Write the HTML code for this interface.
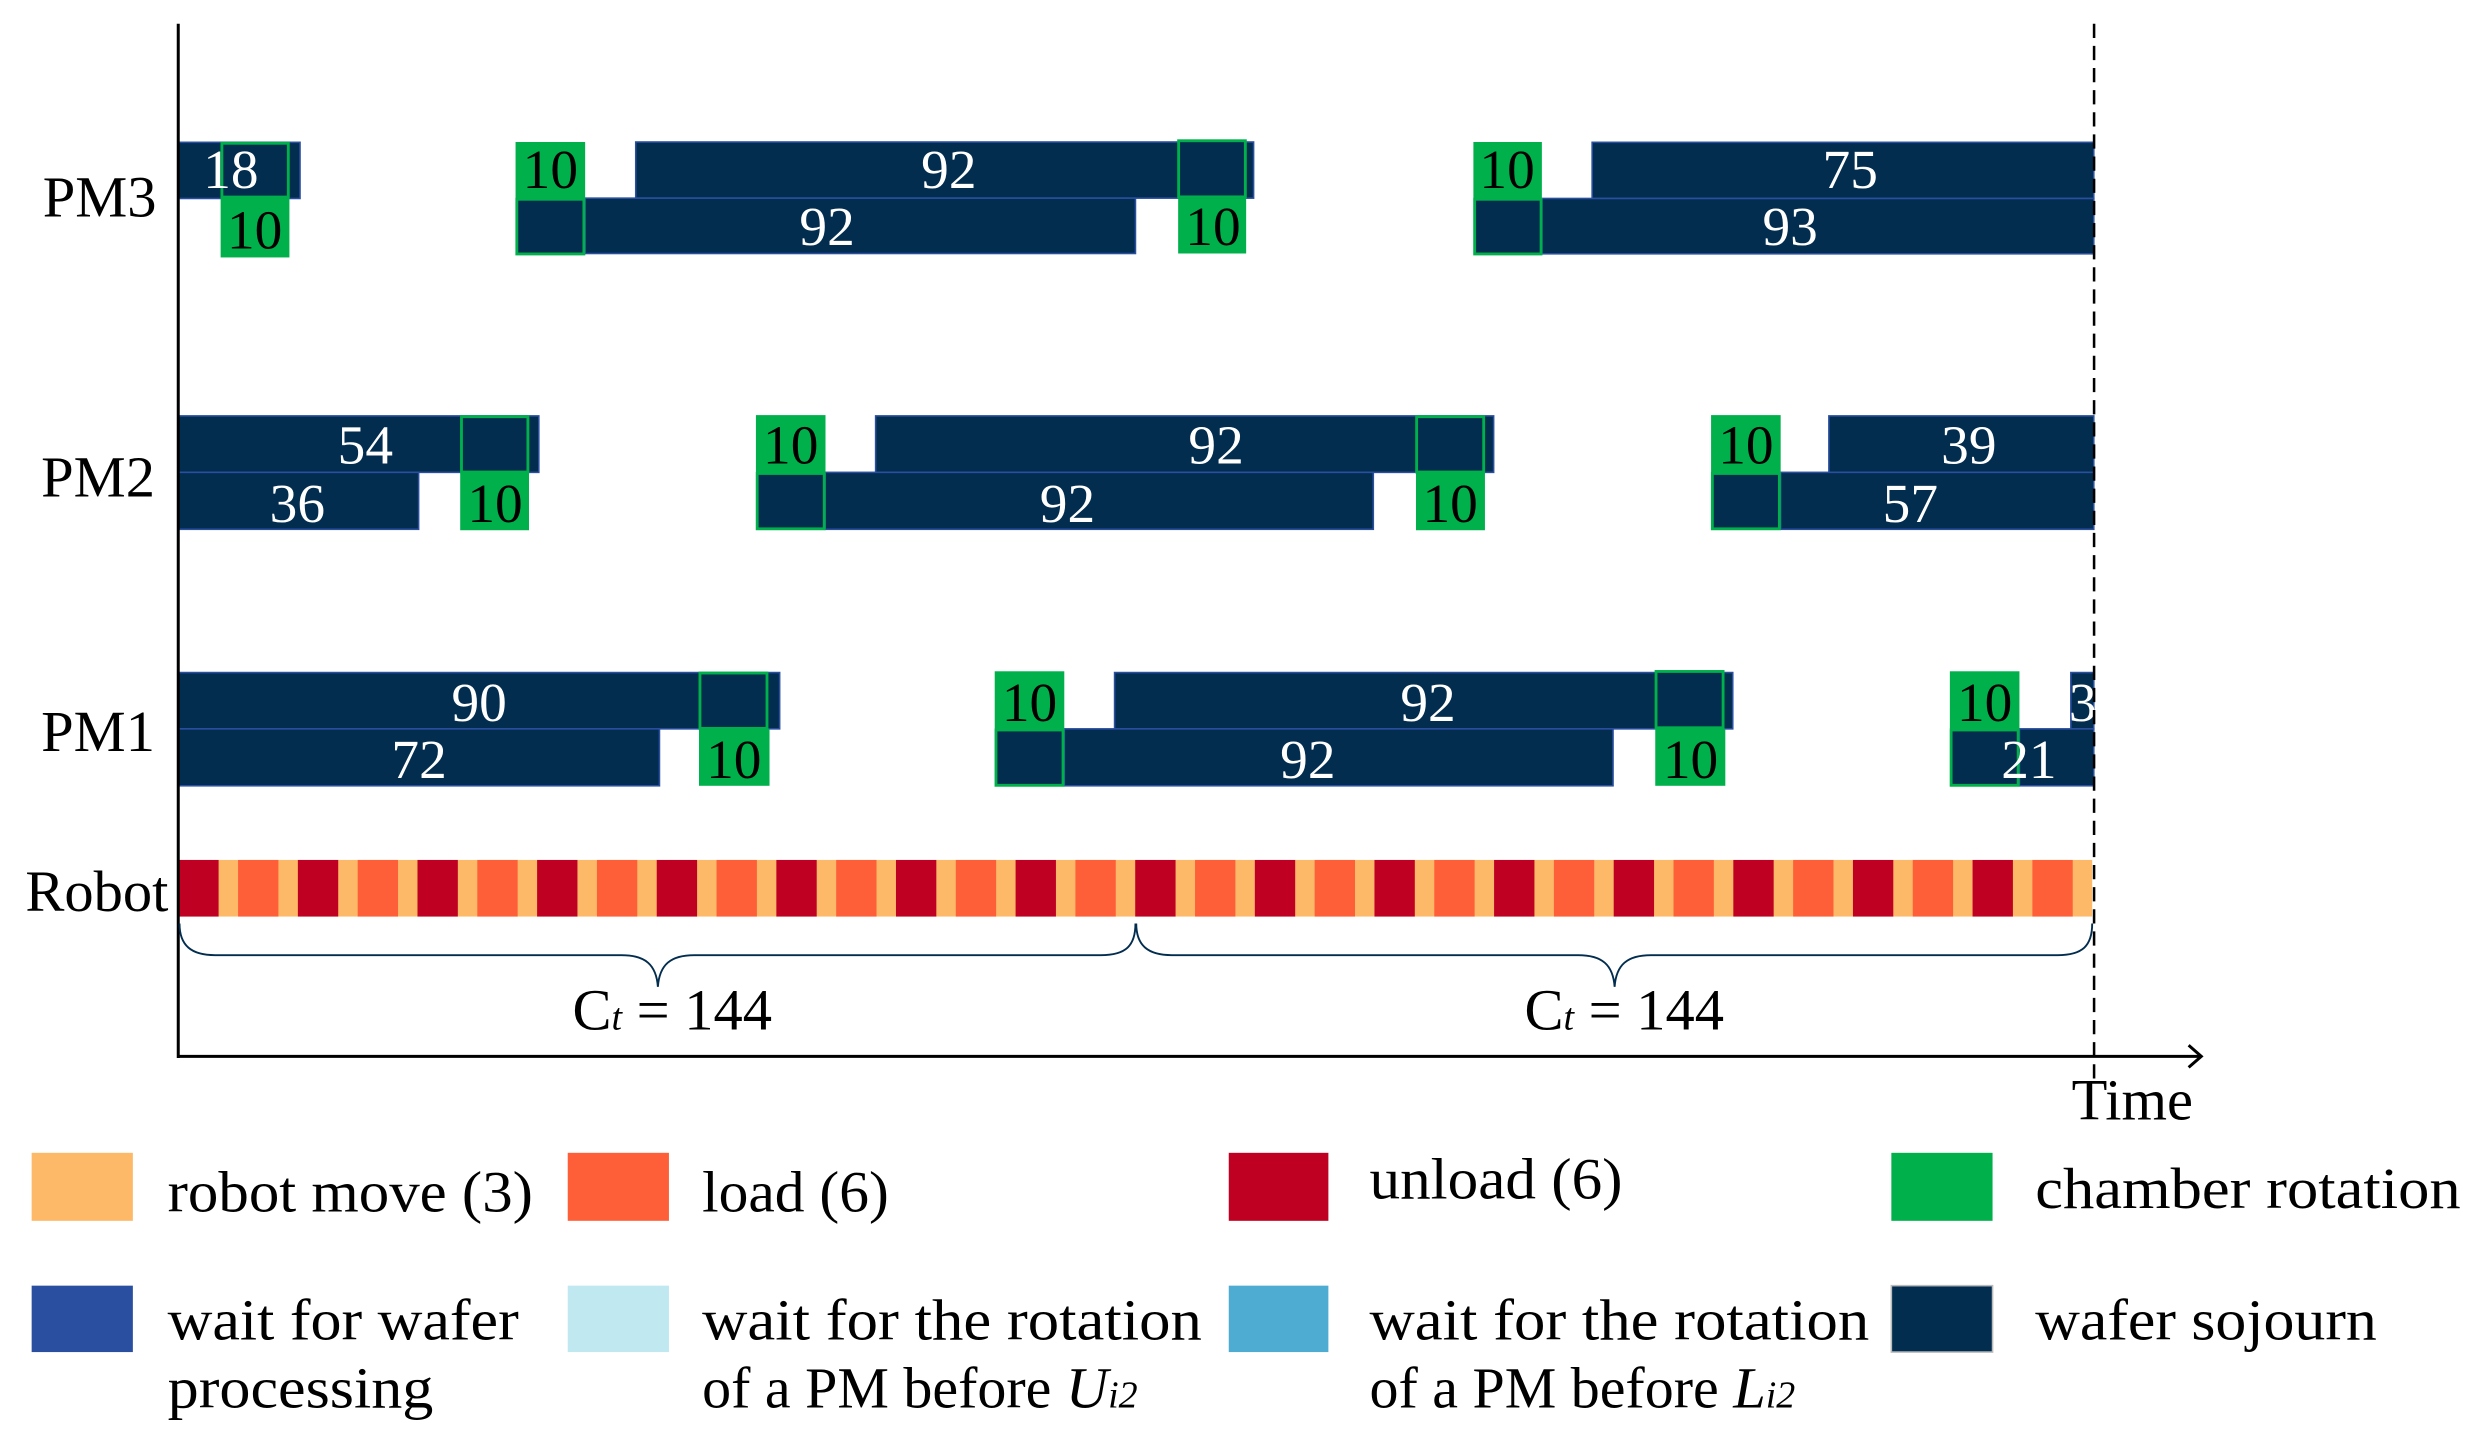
<!DOCTYPE html>
<html><head><meta charset="utf-8"><style>
html,body{margin:0;padding:0;background:#fff;}
svg{display:block;}
text{font-family:"Liberation Serif",serif;}
</style></head><body>
<svg width="2467" height="1440" viewBox="0 0 1560 910.6" xmlns="http://www.w3.org/2000/svg">
<!-- bars -->
<g fill="#022d4f" stroke="#2a4fa0" stroke-width="1">
<rect x="112.7" y="90" width="77" height="35.5"/>
<rect x="402" y="89.8" width="390.7" height="35.5"/>
<rect x="370" y="125.3" width="348" height="35"/>
<rect x="1006.8" y="90" width="317.2" height="35.5"/>
<rect x="975" y="125.5" width="349" height="35"/>
<rect x="112.7" y="263" width="228" height="35.7"/>
<rect x="112.7" y="298.7" width="152" height="36"/>
<rect x="553.7" y="263" width="390.8" height="35.7"/>
<rect x="521.8" y="298.7" width="346.6" height="36"/>
<rect x="1156.5" y="263" width="167.5" height="35.7"/>
<rect x="1126" y="298.7" width="198" height="36"/>
<rect x="112.7" y="425.3" width="380.3" height="35.6"/>
<rect x="112.7" y="460.9" width="304.3" height="36"/>
<rect x="704.8" y="425.3" width="390.9" height="35.6"/>
<rect x="673" y="460.9" width="347" height="36"/>
<rect x="1309.5" y="425.3" width="14.5" height="35.6"/>
<rect x="1277" y="460.9" width="47" height="36"/>
</g>
<!-- green filled boxes -->
<g fill="#00b04a">
<rect x="139.5" y="125.3" width="43.5" height="37.5"/>
<rect x="326" y="89.8" width="44" height="35.5"/>
<rect x="745" y="125.3" width="43" height="35"/>
<rect x="931.7" y="89.8" width="43.3" height="35.5"/>
<rect x="291" y="298.7" width="43.5" height="36.6"/>
<rect x="478" y="262.5" width="44" height="36.2"/>
<rect x="895.4" y="298.7" width="43.6" height="36.6"/>
<rect x="1082" y="262.5" width="44" height="36.2"/>
<rect x="442" y="460.9" width="44.6" height="36"/>
<rect x="629" y="424.5" width="44" height="36.4"/>
<rect x="1046.7" y="460.9" width="44.3" height="36"/>
<rect x="1233" y="424.5" width="44" height="36.4"/>
</g>
<!-- green outlines with dark fill -->
<g fill="#022d4f" stroke="#00b04a" stroke-width="1.8">
<rect x="140.3" y="90.6" width="42" height="34"/>
<rect x="326.8" y="126" width="42.4" height="34.6"/>
<rect x="745.3" y="89" width="42.2" height="35.5"/>
<rect x="932.5" y="126" width="42" height="34.6"/>
<rect x="291.8" y="263.5" width="42" height="35"/>
<rect x="478.8" y="299.4" width="42.4" height="35"/>
<rect x="895.8" y="263.5" width="42.4" height="35"/>
<rect x="1082.8" y="299.4" width="42.4" height="35"/>
<rect x="442.6" y="425.6" width="42.4" height="35"/>
<rect x="629.8" y="461.6" width="42.4" height="35"/>
<rect x="1047.2" y="424.6" width="42.4" height="35.6"/>
<rect x="1233.8" y="461.6" width="42.4" height="35"/>
</g>
<!-- robot -->
<g id="rb">
<rect x="112.7" y="543.8" width="1210.3" height="35.8" fill="#fdb968"/>
</g>
<script>
(function(){
var g=document.getElementById('rb');var u=1210.3/288;var x0=112.7;
for(var i=0;i<16;i++){
 var t=i*18;
 var r=document.createElementNS('http://www.w3.org/2000/svg','rect');
 r.setAttribute('x',x0+t*u);r.setAttribute('y',543.8);r.setAttribute('width',6*u+0.3);r.setAttribute('height',35.8);r.setAttribute('fill','#c00022');g.appendChild(r);
 var o=document.createElementNS('http://www.w3.org/2000/svg','rect');
 o.setAttribute('x',x0+(t+9)*u);o.setAttribute('y',543.8);o.setAttribute('width',6*u+0.3);o.setAttribute('height',35.8);o.setAttribute('fill','#ff5f38');g.appendChild(o);
}
})();
</script>
<!-- bar numbers -->
<g font-size="35" fill="#fff" text-anchor="middle">
<text x="146" y="119">18</text>
<text x="600" y="119">92</text>
<text x="523" y="155">92</text>
<text x="1170" y="119">75</text>
<text x="1132" y="155">93</text>
<text x="231" y="293">54</text>
<text x="188" y="330">36</text>
<text x="769" y="293">92</text>
<text x="675" y="330">92</text>
<text x="1245" y="293">39</text>
<text x="1208" y="330">57</text>
<text x="303" y="456">90</text>
<text x="265" y="492">72</text>
<text x="903" y="456">92</text>
<text x="827" y="492">92</text>
<text x="1317" y="456">3</text>
<text x="1283" y="492">21</text>
</g>
<g font-size="35" fill="#000" text-anchor="middle">
<text x="161" y="157">10</text>
<text x="348" y="119">10</text>
<text x="767" y="155">10</text>
<text x="953" y="119">10</text>
<text x="313" y="330">10</text>
<text x="500" y="293">10</text>
<text x="917" y="330">10</text>
<text x="1104" y="293">10</text>
<text x="464" y="492">10</text>
<text x="651" y="456">10</text>
<text x="1069" y="492">10</text>
<text x="1255" y="456">10</text>
</g>
<!-- axes -->
<g stroke="#000" stroke-width="1.9" fill="none">
<line x1="112.7" y1="15" x2="112.7" y2="669"/>
<line x1="112" y1="668" x2="1392" y2="668"/>
<polyline points="1384,661 1392,668 1384,675"/>
</g>
<line x1="1324.2" y1="15" x2="1324.2" y2="685" stroke="#000" stroke-width="1.6" stroke-dasharray="9,5"/>
<!-- brackets -->
<g stroke="#022d4f" stroke-width="1.2" fill="none">
<path d="M113.5,584 C113.5,598 121,604 136,604 L393,604 C408,604 415,610 416,624 C417,610 424,604 439,604 L696,604 C712,604 718,598 718,584"/>
<path d="M718.5,584 C718.5,598 726,604 741,604 L998,604 C1013,604 1020,610 1021,624 C1022,610 1029,604 1044,604 L1301,604 C1317,604 1323,598 1323,584"/>
</g>
<!-- labels -->
<g font-size="37" fill="#000">
<text x="27" y="137">PM3</text>
<text x="26" y="314">PM2</text>
<text x="26" y="475">PM1</text>
<text x="16" y="576">Robot</text>
<text x="362" y="651">C<tspan font-style="italic" font-size="24">t</tspan> = 144</text>
<text x="964" y="651">C<tspan font-style="italic" font-size="24">t</tspan> = 144</text>
<text x="1310" y="708">Time</text>
</g>
<!-- legend -->
<rect x="20" y="729" width="64" height="43" fill="#fdb968"/>
<rect x="359" y="729" width="64" height="43" fill="#ff5f38"/>
<rect x="777" y="729" width="63" height="43" fill="#c00022"/>
<rect x="1196" y="729" width="64" height="43" fill="#00b04a"/>
<rect x="20" y="813" width="64" height="42" fill="#2a4fa0"/>
<rect x="359" y="813" width="64" height="42" fill="#bfe8f0"/>
<rect x="777" y="813" width="63" height="42" fill="#4eacd3"/>
<rect x="1196" y="813" width="64" height="42" fill="#022d4f" stroke="#bbb" stroke-width="1"/>
<g font-size="37" fill="#000">
<text x="106" y="766" textLength="231" lengthAdjust="spacingAndGlyphs">robot move (3)</text>
<text x="444" y="766" textLength="118" lengthAdjust="spacingAndGlyphs">load (6)</text>
<text x="866" y="758" textLength="160" lengthAdjust="spacingAndGlyphs">unload (6)</text>
<text x="1287" y="764" textLength="269" lengthAdjust="spacingAndGlyphs">chamber rotation</text>
<text x="106" y="847" textLength="222" lengthAdjust="spacingAndGlyphs">wait for wafer</text>
<text x="106" y="890" textLength="168" lengthAdjust="spacingAndGlyphs">processing</text>
<text x="444" y="847" textLength="316" lengthAdjust="spacingAndGlyphs">wait for the rotation</text>
<text x="444" y="890"><tspan textLength="230" lengthAdjust="spacingAndGlyphs">of a PM before </tspan><tspan font-style="italic">U</tspan><tspan font-style="italic" font-size="24">i2</tspan></text>
<text x="866" y="847" textLength="316" lengthAdjust="spacingAndGlyphs">wait for the rotation</text>
<text x="866" y="890"><tspan textLength="230" lengthAdjust="spacingAndGlyphs">of a PM before </tspan><tspan font-style="italic">L</tspan><tspan font-style="italic" font-size="24">i2</tspan></text>
<text x="1287" y="847" textLength="216" lengthAdjust="spacingAndGlyphs">wafer sojourn</text>
</g>
</svg>
</body></html>
